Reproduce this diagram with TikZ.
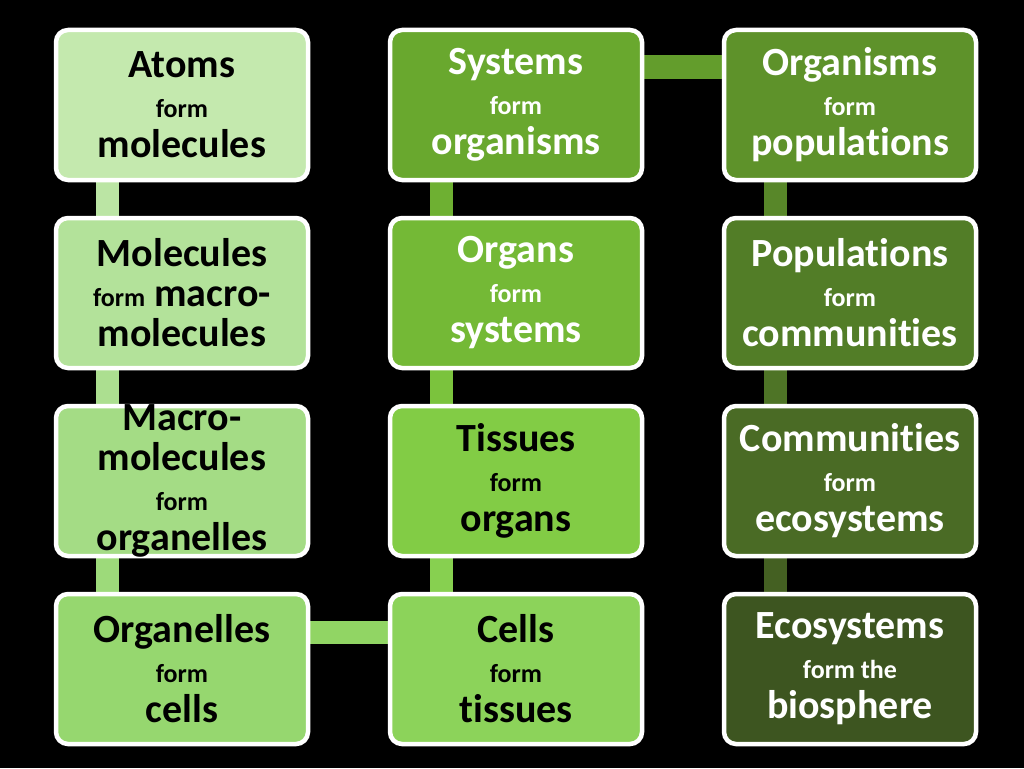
\documentclass[tikz,border=0pt]{standalone}
\usepackage{fontspec}
\setmainfont[RawFeature={-liga;-clig;-calt;-dlig}]{Carlito}
\usetikzlibrary{backgrounds}

\definecolor{atomsc}{HTML}{C4E9AE}
\definecolor{moleculesc}{HTML}{B3E29A}
\definecolor{macroc}{HTML}{A4DC85}
\definecolor{organellesc}{HTML}{96D76F}
\definecolor{cellsc}{HTML}{8CD35A}
\definecolor{tissuesc}{HTML}{82CC45}
\definecolor{organsc}{HTML}{74B936}
\definecolor{systemsc}{HTML}{69A82E}
\definecolor{organismsc}{HTML}{5E922A}
\definecolor{populationsc}{HTML}{527D27}
\definecolor{communitiesc}{HTML}{4A6B25}
\definecolor{ecosystemsc}{HTML}{3D5520}

\newcommand{\frm}[1]{{\fontsize{26}{40}\selectfont #1}}

\begin{document}
\begin{tikzpicture}[x=1pt,y=-1pt,
		box/.style={draw=white, line width=4.5pt, rounded corners=12pt, minimum width=252pt, minimum height=150pt, text width=244pt, align=flush center, inner ysep=0pt, font=\bfseries\fontsize{40}{40}\selectfont},
		dark/.style={text=white},
		link/.style={line width=23pt}]
		\useasboundingbox (0,0) rectangle (1024,768);
		% first column
		\node[box, fill=atomsc] (atoms) at (182,105) {Atoms\\ \frm{form}\\ molecules};
		\node[box, fill=moleculesc] (molecules) at (182,293) {Molecules\\ \frm{form} macro-\\ molecules};
		\node[box, fill=macroc, inner ysep=-8pt] (macro) at (182,481) {Macro-\\ molecules\\ \frm{form}\\ organelles};
		\node[box, fill=organellesc] (organelles) at (182,669) {Organelles\\ \frm{form}\\ cells};
		% second column
		\node[box, fill=cellsc] (cells) at (516,669) {Cells\\ \frm{form}\\ tissues};
		\node[box, fill=tissuesc] (tissues) at (516,481) {Tissues\\ \frm{form}\\ organs};
		\node[box, dark, fill=organsc] (organs) at (516,293) {Organs\\ \frm{form}\\ systems};
		\node[box, dark, fill=systemsc] (systems) at (516,105) {Systems\\ \frm{form}\\ organisms};
		% third column
		\node[box, dark, fill=organismsc] (organisms) at (850,105) {Organisms\\ \frm{form}\\ populations};
		\node[box, dark, fill=populationsc] (populations) at (850,293) {Populations\\ \frm{form}\\ communities};
		\node[box, dark, fill=communitiesc] (communities) at (850,481) {Communities\\ \frm{form}\\ ecosystems};
		\node[box, dark, fill=ecosystemsc] (ecosystems) at (850,669) {Ecosystems\\ \frm{form the}\\ biosphere};
		\begin{pgfonlayer}{background}
			\fill[black] (0,0) rectangle (1024,768);
			\draw[link, atomsc!50!moleculesc] ([xshift=-75pt]atoms.center) -- ([xshift=-75pt]molecules.center);
			\draw[link, moleculesc!50!macroc] ([xshift=-75pt]molecules.center) -- ([xshift=-75pt]macro.center);
			\draw[link, macroc!50!organellesc] ([xshift=-75pt]macro.center) -- ([xshift=-75pt]organelles.center);
			\draw[link, organellesc!50!cellsc] ([yshift=37pt]organelles.center) -- ([yshift=37pt]cells.center);
			\draw[link, cellsc!50!tissuesc] ([xshift=-75pt]cells.center) -- ([xshift=-75pt]tissues.center);
			\draw[link, tissuesc!50!organsc] ([xshift=-75pt]tissues.center) -- ([xshift=-75pt]organs.center);
			\draw[link, organsc!50!systemsc] ([xshift=-75pt]organs.center) -- ([xshift=-75pt]systems.center);
			\draw[link, systemsc!50!organismsc] ([yshift=38pt]systems.center) -- ([yshift=38pt]organisms.center);
			\draw[link, organismsc!50!populationsc] ([xshift=-75pt]organisms.center) -- ([xshift=-75pt]populations.center);
			\draw[link, populationsc!50!communitiesc] ([xshift=-75pt]populations.center) -- ([xshift=-75pt]communities.center);
			\draw[link, communitiesc!50!ecosystemsc] ([xshift=-75pt]communities.center) -- ([xshift=-75pt]ecosystems.center);
		\end{pgfonlayer}
	\end{tikzpicture}
\end{document}
